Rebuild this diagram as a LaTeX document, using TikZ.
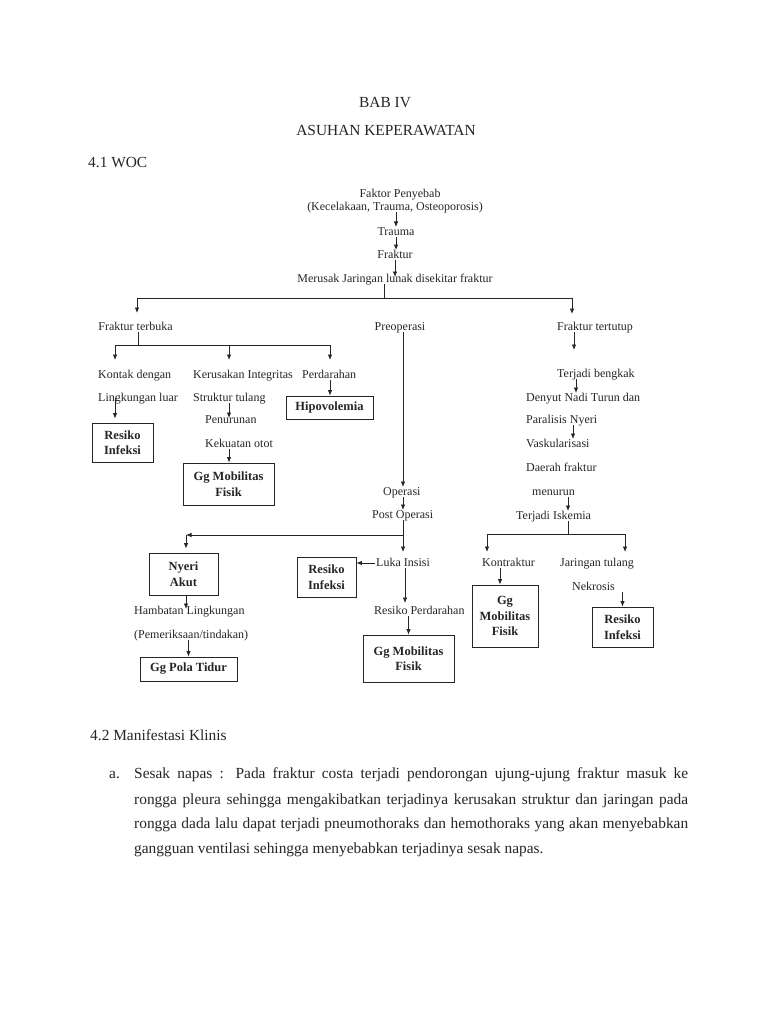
\documentclass[tikz,border=0pt]{standalone}
\usepackage{fontspec}
\setmainfont{Liberation Serif}
\usetikzlibrary{arrows.meta}
\definecolor{ink}{gray}{0.15}
\begin{document}
\begin{tikzpicture}[x=1pt,y=-1pt,
  t/.style={inner sep=1pt, text height=7.6pt, text depth=0pt, font=\fontsize{12}{14}\selectfont, text=ink},
  tl/.style={t, anchor=west},
  big/.style={inner sep=1pt, text height=10pt, text depth=0pt, font=\fontsize{15.4}{18}\selectfont, text=ink},
  box/.style={draw=ink, line width=0.8pt, inner sep=1pt, align=center, font=\fontsize{12.5}{15.5}\selectfont\bfseries, text=ink},
  ln/.style={draw=ink, line width=0.8pt},
  arr/.style={ln, -{Latex[length=5.5pt,width=4.5pt]}}]

\useasboundingbox[fill=white] (0,0) rectangle (768,1024);

% titles
\node[big] (bab) at (385,103) {BAB IV};
\node[big] (asuhan) at (386,131) {ASUHAN KEPERAWATAN};
\node[big,anchor=west] (woc) at (87,163) {4.1 WOC};

% top chain
\node[t] (fp) at (400,194) {Faktor Penyebab};
\node[t] (kec) at (395,207) {(Kecelakaan, Trauma, Osteoporosis)};
\node[t] (trauma) at (396,232) {Trauma};
\node[t] (fraktur) at (395,255) {Fraktur};
\node[t] (merusak) at (395,279) {Merusak Jaringan lunak disekitar fraktur};

\node[t] (fterbuka) at (135.5,327) {Fraktur terbuka};
\node[t] (preop) at (400,327) {Preoperasi};
\node[t] (ftertutup) at (595,327) {Fraktur tertutup};

% left branch
\node[tl] (kontak) at (97,375) {Kontak dengan};
\node[tl] (lingk) at (97,398) {Lingkungan luar};
\node[tl] (kerusakan) at (192,375) {Kerusakan Integritas};
\node[tl] (struktur) at (192,398) {Struktur tulang};
\node[tl] (penurunan) at (204,420) {Penurunan};
\node[tl] (kekuatan) at (204,444) {Kekuatan otot};
\node[tl] (perdarahan) at (301,375) {Perdarahan};
\node[box, minimum width=61pt, minimum height=39pt] (res1) at (122.5,442.5) {Resiko\\Infeksi};
\node[box, minimum width=91pt, minimum height=42pt] (mob1) at (228.5,484) {Gg Mobilitas\\Fisik};
\node[box, minimum width=87pt, minimum height=23pt] (hipo) at (329.5,407.5) {Hipovolemia};

% right branch
\node[tl] (bengkak) at (556,374) {Terjadi bengkak};
\node[tl] (denyut) at (525,398) {Denyut Nadi Turun dan};
\node[tl] (paralisis) at (525,420) {Paralisis Nyeri};
\node[tl] (vask) at (525,444) {Vaskularisasi};
\node[tl] (daerah) at (525,468) {Daerah fraktur};
\node[tl] (menurun) at (531,492) {menurun};
\node[tl] (iskemia) at (515,516) {Terjadi Iskemia};

% middle
\node[tl] (operasi) at (382,492) {Operasi};
\node[tl] (postop) at (371,515) {Post Operasi};

\node[box, minimum width=69pt, minimum height=42pt] (nyeri) at (183.5,574) {Nyeri\\Akut};
\node[tl] (hambatan) at (133,611) {Hambatan Lingkungan};
\node[tl] (pemeriksaan) at (133,635) {(Pemeriksaan/tindakan)};
\node[box, minimum width=97pt, minimum height=24pt] (pola) at (188.5,669) {Gg Pola Tidur};
\node[box, minimum width=59pt, minimum height=40pt] (res2) at (326.5,577) {Resiko\\Infeksi};
\node[tl] (luka) at (375,563) {Luka Insisi};
\node[tl] (resperd) at (373,611) {Resiko Perdarahan};
\node[box, minimum width=91pt, minimum height=47pt] (mob2) at (408.5,658.5) {Gg Mobilitas\\Fisik};

\node[tl] (kontraktur) at (481,563) {Kontraktur};
\node[tl] (jaringan) at (559,563) {Jaringan tulang};
\node[tl] (nekrosis) at (571,587) {Nekrosis};
\node[box, minimum width=66pt, minimum height=62pt] (mob3) at (505,616) {Gg\\Mobilitas\\Fisik};
\node[box, minimum width=61pt, minimum height=40pt] (res3) at (622.5,627) {Resiko\\Infeksi};

% bottom text
\node[big,anchor=west] (manif) at (89,735) {4.2 Manifestasi Klinis};
\node[big,anchor=west] (itema) at (108,773) {a.};
\node[big,anchor=west] (l1) at (133,773) {\makebox[554pt][s]{Sesak napas : Pada fraktur costa terjadi pendorongan ujung-ujung fraktur masuk ke}};
\node[big,anchor=west] (l2) at (133,799) {\makebox[554pt][s]{rongga pleura sehingga mengakibatkan terjadinya kerusakan struktur dan jaringan pada}};
\node[big,anchor=west] (l3) at (133,823) {\makebox[554pt][s]{rongga dada lalu dapat terjadi pneumothoraks dan hemothoraks yang akan menyebabkan}};
\node[big,anchor=west] (l4) at (133,848) {gangguan ventilasi sehingga menyebabkan terjadinya sesak napas.};

% connectors: top chain
\draw[arr] (trauma.north |- kec.south) -- (trauma.north);
\draw[arr] (trauma.south) -- (trauma.south |- fraktur.north);
\draw[arr, shorten >=2pt] (fraktur.south) -- (fraktur.south |- merusak.center);
\coordinate (jtop) at (384,298);
\coordinate (jl) at (137,298);
\coordinate (jr) at (572,298);
\draw[ln] (jtop |- merusak.south) -- (jtop);
\draw[ln] (jl) -- (jr);
\draw[arr, shorten >=9pt] (jl) -- (jl |- fterbuka.north);
\draw[arr, shorten >=8pt] (jr) -- (jr |- ftertutup.north);

% left branch connectors
\coordinate (t1) at (138,345);
\coordinate (t1a) at (115,345);
\coordinate (t1b) at (229,345);
\coordinate (t1c) at (330,345);
\draw[ln] (fterbuka.south -| t1) -- (t1);
\draw[ln] (t1a) -- (t1c);
\draw[arr, shorten >=10pt] (t1a) -- (t1a |- kontak.north);
\draw[arr, shorten >=10pt] (t1b) -- (t1b |- kerusakan.north);
\draw[arr, shorten >=10pt] (t1c) -- (t1c |- perdarahan.north);
\draw[arr, shorten >=4pt] (t1a |- lingk.center) -- (t1a |- res1.north);
\draw[arr, shorten >=2pt] (t1b |- struktur.south) -- (t1b |- penurunan.center);
\draw[arr] (t1b |- kekuatan.south) -- (t1b |- mob1.north);
\draw[arr] (t1c |- perdarahan.south) -- (t1c |- hipo.north);

% middle connectors
\coordinate (vx) at (403,535);
\coordinate (vl) at (186,535);
\coordinate (vx2) at (405,0);
\draw[arr] (vx |- preop.south) -- (vx |- operasi.north);
\draw[arr] (vx |- operasi.south) -- (vx |- postop.north);
\draw[ln] (vx |- postop.south) -- (vx);
\draw[arr] (vx) -- (vl);
\draw[arr, shorten >=4pt] (vl) -- (vl |- nyeri.north);
\draw[arr, shorten >=6pt] (vx) -- (vx |- luka.north);
\draw[arr] (luka.west) -- (luka.west -| res2.east);
\draw[arr, shorten >=3pt] (vx2 |- luka.south) -- (vx2 |- resperd.north);
\draw[arr] (mob2.north |- resperd.south) -- (mob2.north);
\draw[arr, shorten >=2pt] (vl |- nyeri.south) -- (vl |- hambatan.center);
\draw[arr] (pola.north |- pemeriksaan.south) -- (pola.north);

% right connectors
\coordinate (e1) at (574,350);
\coordinate (xb) at (576,0);
\coordinate (xc) at (573,0);
\coordinate (j3) at (568,534);
\coordinate (j3l) at (487,534);
\coordinate (j3r) at (625,534);
\coordinate (xk) at (500,0);
\draw[arr] (e1 |- ftertutup.south) -- (e1);
\draw[arr] (xb |- bengkak.south) -- (xb |- denyut.north);
\draw[arr] (xc |- paralisis.south) -- (xc |- vask.north);
\draw[arr] (j3 |- menurun.south) -- (j3 |- iskemia.north);
\draw[ln] (j3 |- iskemia.south) -- (j3);
\draw[ln] (j3l) -- (j3r);
\draw[arr, shorten >=6pt] (j3l) -- (j3l |- kontraktur.north);
\draw[arr, shorten >=6pt] (j3r) -- (j3r |- jaringan.north);
\draw[arr] (xk |- kontraktur.south) -- (xk |- mob3.north);
\draw[arr] (res3.north |- nekrosis.south) -- (res3.north);
\end{tikzpicture}
\end{document}
